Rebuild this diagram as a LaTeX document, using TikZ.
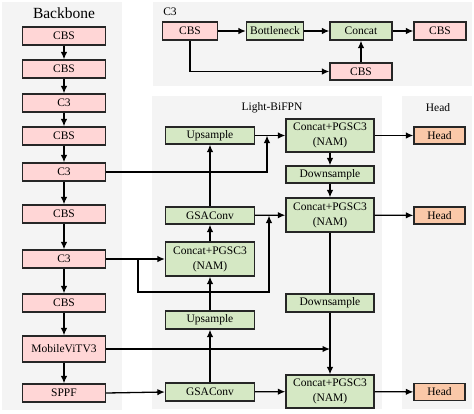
\documentclass[tikz,border=0pt]{standalone}
\usepackage{fontspec}
\setmainfont{Liberation Serif}
\usepackage{xcolor}
\usetikzlibrary{arrows.meta}

\definecolor{bbpink}{HTML}{FFD6D6}
\definecolor{fpngreen}{HTML}{D5E8C4}
\definecolor{headorange}{HTML}{FAC8A8}
\definecolor{panelgray}{HTML}{F4F4F4}

\begin{document}
\begin{tikzpicture}[x=1pt, y=-1pt, line width=1.3pt,
  >={Latex[length=7.5pt,width=6.5pt]},
  box/.style={draw=black!85, inner sep=0pt, minimum height=18pt, align=center,
    font=\fontsize{11.5}{15}\selectfont},
  pinkbox/.style={box, fill=bbpink, minimum width=83pt},
  greenbox/.style={box, fill=fpngreen, minimum width=89pt},
  headbox/.style={box, fill=headorange, minimum width=51pt, minimum height=17pt},
  panel/.style={fill=panelgray, draw=none},
  paneltitle/.style={font=\fontsize{11.5}{14}\selectfont}]

\useasboundingbox (0,0) rectangle (474,413);

% panels
\fill[panel] (2,2) rectangle (122,410);
\fill[panel] (153,2) rectangle (472,86);
\fill[panel] (152,96) rectangle (382,409);
\fill[panel] (402,96) rectangle (472,409);

\node[font=\fontsize{15.5}{18}\selectfont] (tbb) at (64,13) {Backbone};
\node[paneltitle] (tc3) at (170,12) {C3};
\node[paneltitle] (tfpn) at (272,108) {Light-BiFPN};
\node[paneltitle] (thd) at (438,108) {Head};

% Backbone
\node[pinkbox] (bb1) at (64,36) {CBS};
\node[pinkbox] (bb2) at (64,69) {CBS};
\node[pinkbox] (bb3) at (64,103) {C3};
\node[pinkbox] (bb4) at (64,136) {CBS};
\node[pinkbox] (bb5) at (64,172) {C3};
\node[pinkbox] (bb6) at (64,214) {CBS};
\node[pinkbox] (bb7) at (64,259) {C3};
\node[pinkbox] (bb8) at (64,303) {CBS};
\node[pinkbox, minimum height=26pt] (bb9) at (64,349) {MobileViTV3};
\node[pinkbox] (bb10) at (64,393) {SPPF};

\foreach \a/\b in {bb1/bb2, bb2/bb3, bb3/bb4, bb4/bb5, bb5/bb6,
                   bb6/bb7, bb7/bb8, bb8/bb9, bb9/bb10}
  \draw[->] (\a) -- (\b);

% C3 module
\node[box, fill=bbpink, minimum width=55pt] (c3a) at (190,31) {CBS};
\node[box, fill=fpngreen, minimum width=57pt] (c3b) at (275,31) {Bottleneck};
\node[box, fill=fpngreen, minimum width=62pt] (c3c) at (361,31) {Concat};
\node[box, fill=bbpink, minimum width=52pt] (c3d) at (440,31) {CBS};
\node[box, fill=bbpink, minimum width=62pt, minimum height=17pt] (c3e) at (361,71.5) {CBS};

\draw[->] (c3a) -- (c3b);
\draw[->] (c3b) -- (c3c);
\draw[->] (c3c) -- (c3d);
\draw[->] (c3a.south) |- (c3e.west);
\draw[->] (c3e) -- (c3c);

% Light-BiFPN
\node[greenbox, minimum height=17pt] (up1) at (210,135.5) {Upsample};
\node[greenbox, minimum width=88pt, minimum height=33pt] (cat1) at (330,135.5) {Concat+PGSC3\\(NAM)};
\node[greenbox, minimum width=88pt, minimum height=17pt] (ds1) at (330,174.5) {Downsample};
\node[greenbox, minimum width=88pt, minimum height=34pt] (cat2) at (330,215) {Concat+PGSC3\\(NAM)};
\node[greenbox, minimum height=17pt] (gsa1) at (210,215.5) {GSAConv};
\node[greenbox, minimum height=34pt] (cat3) at (210,259) {Concat+PGSC3\\(NAM)};
\node[greenbox] (up2) at (210,320) {Upsample};
\node[greenbox, minimum width=88pt] (ds2) at (330,303) {Downsample};
\node[greenbox] (gsa2) at (210,392) {GSAConv};
\node[greenbox, minimum width=88pt, minimum height=33pt] (cat4) at (330,391.5) {Concat+PGSC3\\(NAM)};

% Head
\node[headbox] (hd1) at (439.5,135.5) {Head};
\node[headbox] (hd2) at (439.5,215.5) {Head};
\node[headbox] (hd3) at (439.5,392) {Head};

% connections
\coordinate (j1) at (267,135.5);
\coordinate (j2) at (138,259);
\coordinate (j3) at (269,215.5);
\coordinate (j4) at (269,292);
\coordinate (j5) at (330,349);

\draw[->] (bb5.east) -| (j1);
\draw[->] (up1) -- (cat1);
\draw[->] (gsa1) -- (up1);
\draw[->] (cat1) -- (ds1);
\draw[->] (ds1) -- (cat2);
\draw[->] (gsa1) -- (cat2);
\draw[->] (bb7.east) -- (cat3.west);
\draw[->] (j2) |- (j4) -- (j3);
\draw[->] (cat3) -- (gsa1);
\draw[->] (up2) -- (cat3);
\draw (cat2) -- (ds2);
\draw[->] (ds2) -- (cat4);
\draw[->] (bb9.east) -- (j5);
\draw[->] (bb10.east) -- (gsa2.west);
\draw[->] (gsa2) -- (up2);
\draw[->] (gsa2) -- (cat4);

\draw[->] (cat1) -- (hd1);
\draw[->] (cat2) -- (hd2);
\draw[->] (cat4) -- (hd3);

\end{tikzpicture}
\end{document}
